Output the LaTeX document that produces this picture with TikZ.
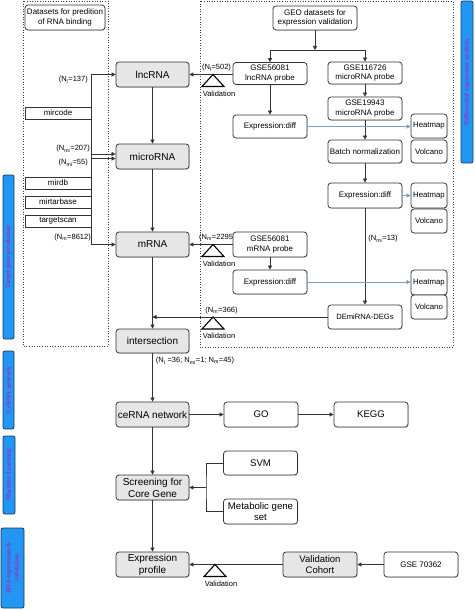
\documentclass[tikz,border=0pt]{standalone}
\usepackage{fontspec}
\setmainfont{Liberation Sans}
\newfontfamily\serifb{Liberation Serif}
\usetikzlibrary{arrows.meta,shadows}
\definecolor{boxline}{HTML}{333333}
\definecolor{grayfill}{HTML}{E6E6E6}
\definecolor{bluearr}{HTML}{7C9CC8}
\definecolor{barfill}{HTML}{2196F3}
\definecolor{barline}{HTML}{1A3A5C}
\definecolor{bartxt}{HTML}{9B2FC6}
\tikzset{
 base/.style={draw=boxline, line width=0.75pt, rounded corners=3pt, align=center, inner sep=1pt,
   drop shadow={opacity=0.25, shadow xshift=0.8pt, shadow yshift=-0.8pt}},
 mainbox/.style={base, fill=grayfill, minimum width=73pt, minimum height=25pt, font=\fontsize{10}{12}\selectfont},
 wbox/.style={base, fill=white, minimum width=74pt, minimum height=23pt, font=\fontsize{8}{9.6}\selectfont},
 bigw/.style={base, fill=white, minimum width=74pt, minimum height=25pt, font=\fontsize{9.6}{11.5}\selectfont},
 sbox/.style={base, fill=white, minimum width=36pt, minimum height=24pt, inner sep=0pt, font=\fontsize{7.8}{9}\selectfont},
 dbox/.style={draw=boxline, line width=0.6pt, fill=white, minimum width=66pt, minimum height=12pt, inner sep=0pt, font=\fontsize{8}{9}\selectfont},
 lbl/.style={inner sep=0pt, font=\fontsize{7.5}{9}\selectfont},
 conn/.style={draw=boxline, line width=0.65pt},
 arr/.style={conn, -{Triangle[length=4pt,width=4pt]}},
 blarr/.style={draw=bluearr, line width=0.6pt, -{Triangle[length=4pt,width=4pt]}},
 dotbox/.style={draw=black!75, dotted, line width=0.6pt},
 sidebar/.style={draw=barline, fill=barfill, line width=0.8pt, rounded corners=2pt, rotate=90, inner sep=0pt,
   align=center, text=bartxt, font=\serifb\bfseries\fontsize{6.5}{8}\selectfont},
 tri/.style={draw=black, line width=1.1pt, fill=white, line join=miter},
 valtri/.pic={\draw[tri] (0,0) -- (11,12) -- (-11,12) -- cycle;
   \node[lbl] at (6,19) {Validation};}
}
\begin{document}
\begin{tikzpicture}[x=1pt,y=-1pt]
\useasboundingbox (0,0) rectangle (474,610);
% dotted frames
\draw[dotbox] (23,1) rectangle (108,346);
\draw[dotbox] (200,1) rectangle (453,347);
% side bars
\node[sidebar, minimum width=162pt, minimum height=12pt] (bdiff) at (467,82) {Differential expression analysis};
\node[sidebar, minimum width=164pt, minimum height=11pt] (btarget) at (8.5,257) {Target gene prediction};
\node[sidebar, minimum width=78pt, minimum height=11pt] (bcerna) at (8.5,390) {CeRNA network};
\node[sidebar, minimum width=78pt, minimum height=12pt] (bml) at (9,475) {Machine Learning};
\node[sidebar, minimum width=80pt, minimum height=23pt] (brna) at (12.5,568) {RNA expression \&\\validation};
% left column
\node[base, fill=white, minimum width=80pt, minimum height=25pt, font=\fontsize{8}{9.6}\selectfont] (dsrna) at (65,17.5) {Datasets for predition\\of RNA binding};
\node[dbox] (mircode) at (58,113) {mircode};
\node[dbox] (mirdb) at (58,183) {mirdb};
\node[dbox] (mirtar) at (58,202) {mirtarbase};
\node[dbox] (tscan) at (58,221) {targetscan};
% main column
\node[mainbox] (lnc) at (152.5,74.5) {lncRNA};
\node[mainbox] (mic) at (152.5,156.5) {microRNA};
\node[mainbox] (mrna) at (152.5,244.5) {mRNA};
\node[mainbox, minimum height=24pt] (inter) at (152.5,341) {intersection};
\node[mainbox] (cerna) at (152.5,414.5) {ceRNA network};
\node[mainbox] (screen) at (152.5,487.5) {Screening for\\Core Gene};
\node[mainbox] (expr) at (152.5,564.5) {Expression\\profile};
% lower right
\node[bigw] (go) at (261,414.5) {GO};
\node[bigw] (kegg) at (371,414.5) {KEGG};
\node[bigw, minimum height=24pt] (svm) at (260.5,463) {SVM};
\node[bigw] (metab) at (260.5,511.5) {Metabolic gene\\set};
\node[mainbox, minimum width=74pt, font=\fontsize{9.5}{11.5}\selectfont] (vcoh) at (320,564.5) {Validation\\Cohort};
\node[wbox, minimum height=25pt] (gse70) at (421,564.5) {GSE 70362};
% right block
\node[wbox, minimum width=84pt, minimum height=24pt] (geo) at (315,18) {GEO datasets for\\expression validation};
\node[wbox, minimum height=22pt] (gse56l) at (270,73.5) {GSE56081\\lncRNA probe};
\node[wbox, minimum height=22pt] (gse116) at (365,73) {GSE116726\\microRNA probe};
\node[wbox] (gse199) at (365,108.5) {GSE19943\\microRNA probe};
\node[wbox] (exdl) at (270,126.5) {Expression:diff};
\node[sbox] (hm1) at (429,126) {Heatmap};
\node[wbox] (batch) at (365,151.5) {Batch normalization};
\node[sbox, minimum height=23pt] (vo1) at (429,151.5) {Volcano};
\node[wbox, minimum height=25pt] (exdmi) at (365,195.5) {Expression:diff};
\node[sbox, minimum height=25pt] (hm2) at (429,195.5) {Heatmap};
\node[sbox] (vo2) at (429,221) {Volcano};
\node[wbox, minimum height=25pt] (gse56m) at (270,244.5) {GSE56081\\mRNA probe};
\node[wbox, minimum height=24pt] (exdm) at (270,282) {Expression:diff};
\node[sbox, minimum height=25pt] (hm3) at (429,282.5) {Heatmap};
\node[sbox] (vo3) at (429,307) {Volcano};
\node[wbox, minimum height=24pt, font=\fontsize{7.6}{9}\selectfont] (demi) at (365,317) {DEmiRNA-DEGs};
% main column arrows
\draw[arr] (lnc) -- (mic);
\draw[arr] (mic) -- (mrna);
\draw[arr] (mrna) -- (inter);
\draw[arr] (inter) -- (cerna);
\draw[arr] (cerna) -- (screen);
\draw[arr] (screen) -- (expr);
% left spine
\coordinate (sp1) at (91,74.5);
\coordinate (sp2) at (91,154);
\coordinate (sp3) at (91,158.5);
\coordinate (sp4) at (91,244.5);
\draw[conn] (sp1) -- (sp4);
\draw[arr] (sp1) -- (lnc.west);
\draw[arr] (sp2) -- (sp2 -| mic.west);
\draw[arr] (sp3) -- (sp3 -| mic.west);
\draw[arr] (sp4) -- (mrna.west);
\node[lbl, anchor=east] at (88,80) {(N\textsubscript{l}=137)};
\node[lbl, anchor=east] at (90,149) {(N\textsubscript{mi}=207)};
\node[lbl, anchor=east] at (88,163) {(N\textsubscript{mi}=55)};
\node[lbl, anchor=east] at (91,238) {(N\textsubscript{m}=8612)};
% GEO tree
\coordinate (split) at (315,50);
\draw[arr] (geo.south) -- (split);
\draw[arr] (split) -| (gse56l.north);
\draw[arr] (split) -| (gse116.north);
\draw[arr] (gse56l) -- (exdl);
\draw[arr] (gse116) -- (gse199);
\draw[arr] (gse199) -- (batch);
\draw[arr] (batch) -- (exdmi);
\draw[arr] (exdmi) -- (demi);
\draw[arr] (gse56m) -- (exdm);
\draw[blarr] (exdl.east) -- (exdl.east -| hm1.west);
\draw[blarr] (exdmi) -- (hm2);
\draw[blarr] (exdm.east) -- (exdm.east -| hm3.west);
\node[lbl] at (383,239) {(N\textsubscript{mi}=13)};
% validation links
\draw[arr] (gse56l.west |- lnc.east) -- (lnc.east);
\draw[arr] (gse56m) -- (mrna);
\draw[arr] (demi.west) -- (demi.west -| mrna.south);
\node[lbl] at (216.5,68) {(N\textsubscript{l}=502)};
\node[lbl, anchor=west] at (199,238) {(N\textsubscript{m}=2295};
\node[lbl] at (221.5,311) {(N\textsubscript{m}=366)};
\path (213,74.5) pic {valtri};
\path (213,244.5) pic {valtri};
\path (213,317) pic {valtri};
\node[lbl] at (195,361) {(N\textsubscript{l} =36; N\textsubscript{mi}=1; N\textsubscript{m}=45)};
% lower links
\draw[arr] (cerna) -- (go);
\draw[arr] (go) -- (kegg);
\coordinate (jn) at (206,487.5);
\draw[conn] (svm.west) -| (jn) |- (metab.west);
\draw[arr] (jn) -- (screen.east);
\draw[arr] (vcoh) -- (expr);
\draw[arr] (gse70) -- (vcoh);
\path (215,564.5) pic {valtri};
\end{tikzpicture}
\end{document}
